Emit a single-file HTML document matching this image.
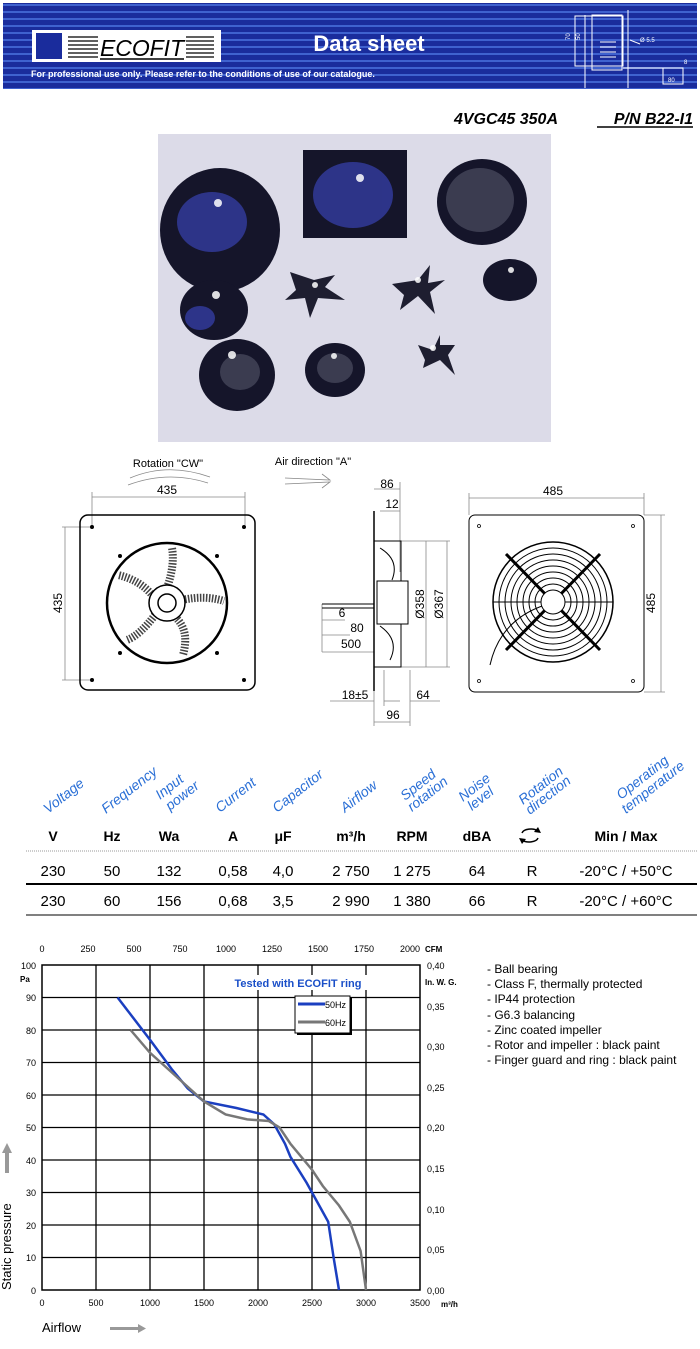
<!DOCTYPE html>
<html><head><meta charset="utf-8"><style>
html,body{margin:0;padding:0;background:#fff;}
svg{display:block;font-family:"Liberation Sans",Arial,sans-serif;}
</style></head><body>
<svg width="700" height="1349" viewBox="0 0 700 1349" xmlns="http://www.w3.org/2000/svg">
<defs>
<pattern id="stripes" width="10" height="7" patternUnits="userSpaceOnUse">
<rect width="10" height="7" fill="#1a2c9c"/>
<rect y="4" width="10" height="2" fill="#3f62cf"/>
</pattern>
</defs>
<!-- header -->
<rect x="3" y="3" width="694" height="86" fill="url(#stripes)"/>
<rect x="32" y="30" width="189" height="32" fill="#fff"/>
<rect x="36" y="33" width="26" height="26" fill="#1a2c9c"/>
<g stroke="#000" stroke-width="1.2">
<line x1="68" y1="37" x2="98" y2="37"/><line x1="68" y1="41" x2="98" y2="41"/><line x1="68" y1="45" x2="98" y2="45"/><line x1="68" y1="49" x2="98" y2="49"/><line x1="68" y1="53" x2="98" y2="53"/><line x1="68" y1="57" x2="98" y2="57"/>
<line x1="186" y1="37" x2="214" y2="37"/><line x1="186" y1="41" x2="214" y2="41"/><line x1="186" y1="45" x2="214" y2="45"/><line x1="186" y1="49" x2="214" y2="49"/><line x1="186" y1="53" x2="214" y2="53"/><line x1="186" y1="57" x2="214" y2="57"/>
</g>
<text x="142" y="56" font-size="23" font-style="italic" text-anchor="middle" fill="#000" textLength="84">ECOFIT</text>
<line x1="100" y1="59" x2="184" y2="59" stroke="#000" stroke-width="1.5"/>
<text x="369" y="51" font-size="22" font-weight="bold" fill="#fff" text-anchor="middle">Data sheet</text>
<text x="31" y="77" font-size="9" font-weight="bold" fill="#fff">For professional use only. Please refer to the conditions of use of our catalogue.</text>
<g stroke="#fff" stroke-width="1" fill="none">
<rect x="575" y="16" width="48" height="50"/><rect x="592" y="15" width="30" height="55"/><line x1="600" y1="42" x2="616" y2="42"/><line x1="600" y1="47" x2="616" y2="47"/><line x1="600" y1="52" x2="616" y2="52"/><line x1="600" y1="57" x2="616" y2="57"/>
<line x1="623" y1="68" x2="665" y2="68"/><rect x="663" y="68" width="20" height="16"/><line x1="585" y1="15" x2="585" y2="88"/><line x1="628" y1="10" x2="628" y2="88"/><line x1="630" y1="40" x2="640" y2="44"/>
</g>
<text x="640" y="42" font-size="6" fill="#fff">Ø 5.5</text><text x="668" y="82" font-size="6" fill="#fff">80</text><text x="684" y="64" font-size="6" fill="#fff">8</text>
<text x="570" y="40" font-size="6" fill="#fff" transform="rotate(-90 570 40)">70</text><text x="580" y="40" font-size="6" fill="#fff" transform="rotate(-90 580 40)">50</text>
<!-- title -->
<text x="558" y="124" font-size="16" font-weight="bold" font-style="italic" text-anchor="end">4VGC45 350A</text>
<text x="693" y="124" font-size="16" font-weight="bold" font-style="italic" text-anchor="end">P/N B22-I1</text>
<line x1="597" y1="127" x2="693" y2="127" stroke="#000" stroke-width="1.5"/>
<!-- photo -->
<rect x="158" y="134" width="393" height="308" fill="#dcdbe8"/>
<g fill="#15152a">
<ellipse cx="220" cy="230" rx="60" ry="62"/>
<rect x="303" y="150" width="104" height="88"/>
<ellipse cx="482" cy="202" rx="45" ry="43"/>
<ellipse cx="214" cy="310" rx="34" ry="30"/>
<ellipse cx="510" cy="280" rx="27" ry="21"/>
<ellipse cx="237" cy="375" rx="38" ry="36"/>
<ellipse cx="335" cy="370" rx="30" ry="27"/>
</g>
<g fill="#1e1e30">
<path d="M314 280 L290 272 L296 290 L285 300 L305 298 L310 318 L318 298 L345 300 L325 287 L335 275 Z"/>
<path d="M418 280 L392 284 L404 295 L400 310 L418 296 L435 314 L430 292 L445 280 L428 283 L430 265 Z"/>
<path d="M433 350 L418 345 L425 360 L423 368 L440 360 L455 375 L448 355 L455 345 L440 345 L440 335 Z"/>
</g>
<g fill="#3d49c8" opacity="0.6">
<ellipse cx="212" cy="222" rx="35" ry="30"/><ellipse cx="353" cy="195" rx="40" ry="33"/><ellipse cx="480" cy="200" rx="34" ry="32" fill="#55566a"/><ellipse cx="200" cy="318" rx="15" ry="12"/><ellipse cx="240" cy="372" rx="20" ry="18" fill="#55566a"/><ellipse cx="335" cy="368" rx="18" ry="15" fill="#55566a"/>
</g>
<g fill="#fff" opacity="0.85"><circle cx="218" cy="203" r="4"/><circle cx="360" cy="178" r="4"/><circle cx="216" cy="295" r="4"/><circle cx="315" cy="285" r="3"/><circle cx="418" cy="280" r="3"/><circle cx="511" cy="270" r="3"/><circle cx="232" cy="355" r="4"/><circle cx="334" cy="356" r="3"/><circle cx="433" cy="348" r="3"/></g>
<!-- drawings -->
<g fill="none" stroke="#888" stroke-width="0.8">
<path d="M130 478 Q168 462 210 477"/><path d="M128 485 Q168 470 208 483"/>
<path d="M285 478 L330 480 L322 474 M285 484 L330 482 L322 488"/>
<line x1="92" y1="497" x2="245" y2="497"/><line x1="92" y1="492" x2="92" y2="525"/><line x1="245" y1="492" x2="245" y2="525"/>
<line x1="65" y1="527" x2="65" y2="680"/><line x1="62" y1="527" x2="90" y2="527"/><line x1="62" y1="680" x2="90" y2="680"/>
<line x1="374" y1="489" x2="400" y2="489"/><line x1="400" y1="482" x2="400" y2="572"/><line x1="380" y1="511" x2="400" y2="511"/>
<line x1="426" y1="541" x2="426" y2="667"/><line x1="447" y1="541" x2="447" y2="667"/><line x1="400" y1="541" x2="450" y2="541"/><line x1="400" y1="667" x2="450" y2="667"/>
<line x1="322" y1="604" x2="322" y2="652"/><line x1="322" y1="620" x2="345" y2="620"/><line x1="322" y1="635" x2="350" y2="635"/><line x1="322" y1="652" x2="374" y2="652"/>
<line x1="330" y1="701" x2="374" y2="701"/><line x1="384" y1="701" x2="400" y2="701"/><line x1="410" y1="701" x2="440" y2="701"/><line x1="374" y1="722" x2="410" y2="722"/>
<line x1="384" y1="670" x2="384" y2="706"/><line x1="410" y1="670" x2="410" y2="726"/><line x1="374" y1="690" x2="374" y2="726"/>
<line x1="469" y1="498" x2="644" y2="498"/><line x1="469" y1="493" x2="469" y2="515"/><line x1="644" y1="493" x2="644" y2="515"/>
<line x1="661" y1="515" x2="661" y2="692"/><line x1="644" y1="515" x2="665" y2="515"/><line x1="644" y1="692" x2="665" y2="692"/>
</g>
<g font-size="11" fill="#000" text-anchor="middle">
<text x="168" y="467">Rotation "CW"</text><text x="313" y="465">Air direction "A"</text>
<text x="167" y="494" font-size="12">435</text>
<text x="62" y="603" font-size="12" transform="rotate(-90 62 603)">435</text>
<text x="387" y="488" font-size="12">86</text><text x="392" y="508" font-size="12">12</text>
<text x="424" y="604" font-size="12" transform="rotate(-90 424 604)">Ø358</text>
<text x="443" y="604" font-size="12" transform="rotate(-90 443 604)">Ø367</text>
<text x="342" y="617" font-size="12">6</text><text x="357" y="632" font-size="12">80</text><text x="351" y="648" font-size="12">500</text>
<text x="355" y="699" font-size="12">18±5</text><text x="423" y="699" font-size="12">64</text><text x="393" y="719" font-size="12">96</text>
<text x="553" y="495" font-size="12">485</text>
<text x="655" y="603" font-size="12" transform="rotate(-90 655 603)">485</text>
</g>
<!-- left view -->
<rect x="80" y="515" width="175" height="175" rx="8" fill="none" stroke="#000" stroke-width="1.5"/>
<g fill="#000"><circle cx="92" cy="527" r="2"/><circle cx="244" cy="527" r="2"/><circle cx="92" cy="680" r="2"/><circle cx="244" cy="680" r="2"/>
<circle cx="120" cy="556" r="2"/><circle cx="217" cy="556" r="2"/><circle cx="120" cy="653" r="2"/><circle cx="217" cy="653" r="2"/></g>
<circle cx="167" cy="603" r="60" fill="none" stroke="#000" stroke-width="2.5"/>
<g fill="none" stroke="#444" stroke-width="8" stroke-dasharray="1.5 1.5">
<path d="M167 588 Q175 565 172 548"/><path d="M182 600 Q205 595 224 601"/><path d="M175 617 Q190 630 183 655"/><path d="M155 615 Q140 635 127 640"/><path d="M153 596 Q140 580 118 575"/>
</g>
<circle cx="167" cy="603" r="18" fill="#fff" stroke="#000" stroke-width="1.5"/>
<circle cx="167" cy="603" r="9" fill="none" stroke="#000" stroke-width="1.5"/>
<!-- side view -->
<g fill="none" stroke="#000" stroke-width="1">
<line x1="374" y1="511" x2="374" y2="691" stroke-width="1.5"/>
<rect x="374" y="541" width="27" height="126"/>
<rect x="377" y="581" width="31" height="43" fill="#fff"/>
<line x1="322" y1="604" x2="374" y2="604"/><line x1="322" y1="608" x2="374" y2="608"/>
<path d="M380 548 Q400 560 392 580"/><path d="M380 626 Q400 640 390 660"/>
</g>
<!-- right view -->
<rect x="469" y="515" width="175" height="177" rx="6" fill="none" stroke="#000" stroke-width="1"/>
<g fill="none" stroke="#000" stroke-width="0.8"><circle cx="479" cy="526" r="1.5"/><circle cx="633" cy="526" r="1.5"/><circle cx="479" cy="681" r="1.5"/><circle cx="633" cy="681" r="1.5"/></g>
<g fill="none" stroke="#000" stroke-width="1">
<circle cx="553" cy="602" r="60" stroke-width="1.5"/><circle cx="553" cy="602" r="54"/><circle cx="553" cy="602" r="48"/><circle cx="553" cy="602" r="42"/><circle cx="553" cy="602" r="36"/><circle cx="553" cy="602" r="30"/><circle cx="553" cy="602" r="24"/><circle cx="553" cy="602" r="18"/>
<line x1="506" y1="554" x2="600" y2="650" stroke-width="3"/><line x1="600" y1="554" x2="506" y2="650" stroke-width="3"/>
<line x1="493" y1="602" x2="613" y2="602"/><path d="M545 605 Q500 620 490 665"/>
</g>
<circle cx="553" cy="602" r="12" fill="#fff" stroke="#000"/>
<!-- table -->
<g font-size="14" fill="#2a6fd6" font-style="italic">
<text x="48" y="814" transform="rotate(-38 48 814)">Voltage</text>
<text x="106" y="814" transform="rotate(-38 106 814)">Frequency</text>
<text x="160" y="800" transform="rotate(-38 160 800)">Input</text><text x="170" y="811" transform="rotate(-38 170 811)">power</text>
<text x="220" y="813" transform="rotate(-38 220 813)">Current</text>
<text x="277" y="813" transform="rotate(-38 277 813)">Capacitor</text>
<text x="345" y="813" transform="rotate(-38 345 813)">Airflow</text>
<text x="405" y="801" transform="rotate(-38 405 801)">Speed</text><text x="412" y="812" transform="rotate(-38 412 812)">rotation</text>
<text x="463" y="802" transform="rotate(-38 463 802)">Noise</text><text x="472" y="811" transform="rotate(-38 472 811)">level</text>
<text x="523" y="805" transform="rotate(-38 523 805)">Rotation</text><text x="530" y="815" transform="rotate(-38 530 815)">direction</text>
<text x="621" y="800" transform="rotate(-38 621 800)">Operating</text><text x="626" y="814" transform="rotate(-38 626 814)">temperature</text>
</g>
<g font-size="14" font-weight="bold" text-anchor="middle">
<text x="53" y="841">V</text><text x="112" y="841">Hz</text><text x="169" y="841">Wa</text><text x="233" y="841">A</text><text x="283" y="841">μF</text><text x="351" y="841">m³/h</text><text x="412" y="841">RPM</text><text x="477" y="841">dBA</text><text x="626" y="841">Min / Max</text>
</g>
<g fill="none" stroke="#000" stroke-width="1.5"><path d="M522 833 A9 5 0 0 1 538 831"/><path d="M538 838 A9 5 0 0 1 522 840"/></g>
<path d="M538 827 L541 833 L534 832 Z M522 844 L519 838 L526 839 Z"/>
<line x1="26" y1="851" x2="697" y2="851" stroke="#999" stroke-dasharray="1 1"/>
<line x1="26" y1="884" x2="697" y2="884" stroke="#000" stroke-width="2"/>
<line x1="26" y1="915" x2="697" y2="915" stroke="#000"/>
<g font-size="15" text-anchor="middle">
<text x="53" y="876">230</text><text x="112" y="876">50</text><text x="169" y="876">132</text><text x="233" y="876">0,58</text><text x="283" y="876">4,0</text><text x="351" y="876">2 750</text><text x="412" y="876">1 275</text><text x="477" y="876">64</text><text x="532" y="876">R</text><text x="626" y="876">-20°C / +50°C</text>
<text x="53" y="906">230</text><text x="112" y="906">60</text><text x="169" y="906">156</text><text x="233" y="906">0,68</text><text x="283" y="906">3,5</text><text x="351" y="906">2 990</text><text x="412" y="906">1 380</text><text x="477" y="906">66</text><text x="532" y="906">R</text><text x="626" y="906">-20°C / +60°C</text>
</g>
<!-- chart -->
<g stroke="#000" stroke-width="1.3">
<line x1="96" y1="965" x2="96" y2="1290"/><line x1="150" y1="965" x2="150" y2="1290"/><line x1="204" y1="965" x2="204" y2="1290"/><line x1="258" y1="965" x2="258" y2="1290"/><line x1="312" y1="965" x2="312" y2="1290"/><line x1="366" y1="965" x2="366" y2="1290"/>
<line x1="42" y1="997.5" x2="420" y2="997.5"/><line x1="42" y1="1030" x2="420" y2="1030"/><line x1="42" y1="1062.5" x2="420" y2="1062.5"/><line x1="42" y1="1095" x2="420" y2="1095"/><line x1="42" y1="1127.5" x2="420" y2="1127.5"/><line x1="42" y1="1160" x2="420" y2="1160"/><line x1="42" y1="1192.5" x2="420" y2="1192.5"/><line x1="42" y1="1225" x2="420" y2="1225"/><line x1="42" y1="1257.5" x2="420" y2="1257.5"/>
</g>
<rect x="42" y="965" width="378" height="325" fill="none" stroke="#000" stroke-width="1.5"/>
<rect x="224" y="975" width="144" height="15" fill="#fff"/>
<text x="298" y="987" font-size="11" font-weight="bold" fill="#1a4fc8" text-anchor="middle">Tested with ECOFIT ring</text>
<rect x="297" y="998" width="55" height="37" fill="#000"/>
<rect x="295" y="996" width="55" height="37" fill="#fff" stroke="#000"/>
<line x1="298" y1="1004" x2="325" y2="1004" stroke="#1b3fc0" stroke-width="3"/><line x1="298" y1="1022" x2="325" y2="1022" stroke="#777" stroke-width="3"/>
<text x="325" y="1008" font-size="9">50Hz</text><text x="325" y="1026" font-size="9">60Hz</text>
<polyline fill="none" stroke="#1b3fc0" stroke-width="2.5" points="117.6,997.5 150,1039.75 171.6,1069 187.8,1088.5 204,1101.5 236.4,1108 263.4,1114.5 274.2,1124.25 285,1143.75 290.4,1156.75 306.6,1182.75 317.4,1202.25 328.2,1221.75 333.6,1257.5 339,1290"/>
<polyline fill="none" stroke="#777" stroke-width="2.5" points="130.6,1030 150,1052.75 171.6,1072.25 204,1101.5 225.6,1114.5 247.2,1119.4 268.8,1121 279.6,1127.5 290.4,1143.75 312,1169.75 322.8,1186 339,1205.5 349.8,1221.75 360.6,1251 366,1290"/>
<g font-size="9" text-anchor="middle">
<text x="42" y="952">0</text><text x="88" y="952">250</text><text x="134" y="952">500</text><text x="180" y="952">750</text><text x="226" y="952">1000</text><text x="272" y="952">1250</text><text x="318" y="952">1500</text><text x="364" y="952">1750</text><text x="410" y="952">2000</text>
<text x="42" y="1306">0</text><text x="96" y="1306">500</text><text x="150" y="1306">1000</text><text x="204" y="1306">1500</text><text x="258" y="1306">2000</text><text x="312" y="1306">2500</text><text x="366" y="1306">3000</text><text x="420" y="1306">3500</text>
</g>
<text x="425" y="952" font-size="8" font-weight="bold">CFM</text>
<text x="441" y="1307" font-size="8" font-weight="bold">m³/h</text>
<g font-size="9" text-anchor="end">
<text x="36" y="969">100</text><text x="36" y="1001">90</text><text x="36" y="1034">80</text><text x="36" y="1066">70</text><text x="36" y="1099">60</text><text x="36" y="1131">50</text><text x="36" y="1164">40</text><text x="36" y="1196">30</text><text x="36" y="1229">20</text><text x="36" y="1261">10</text><text x="36" y="1294">0</text>
</g>
<text x="20" y="982" font-size="8" font-weight="bold">Pa</text>
<g font-size="9">
<text x="427" y="969">0,40</text><text x="427" y="1010">0,35</text><text x="427" y="1050">0,30</text><text x="427" y="1091">0,25</text><text x="427" y="1131">0,20</text><text x="427" y="1172">0,15</text><text x="427" y="1213">0,10</text><text x="427" y="1253">0,05</text><text x="427" y="1294">0,00</text>
</g>
<text x="425" y="985" font-size="8" font-weight="bold">In. W. G.</text>
<text x="11" y="1290" font-size="13" transform="rotate(-90 11 1290)">Static pressure</text>
<path d="M5 1173 L5 1153 L2 1153 L7 1143 L12 1153 L9 1153 L9 1173 Z" fill="#999"/>
<text x="42" y="1332" font-size="13">Airflow</text>
<path d="M110 1327 L138 1327 L138 1324 L146 1328.5 L138 1333 L138 1330 L110 1330 Z" fill="#999"/>
<g font-size="12">
<text x="487" y="973">- Ball bearing</text><text x="487" y="988">- Class F, thermally protected</text><text x="487" y="1003">- IP44 protection</text><text x="487" y="1019">- G6.3 balancing</text><text x="487" y="1034">- Zinc coated impeller</text><text x="487" y="1049">- Rotor and impeller : black paint</text><text x="487" y="1064">- Finger guard and ring : black paint</text>
</g>
</svg>
</body></html>
